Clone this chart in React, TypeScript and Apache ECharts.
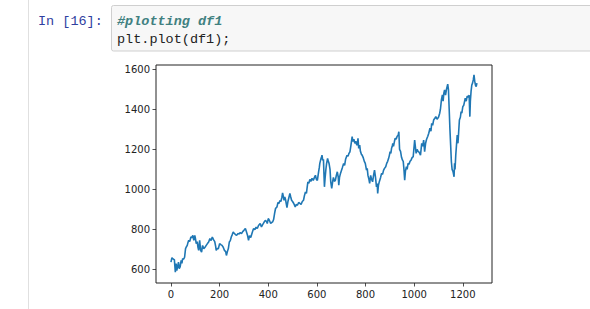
import React, { useEffect, useRef } from "react";
import * as echarts from "echarts";

// Day index (x) and value (y)
const dayIndex = [
  0, 4, 7, 10, 14, 18, 21, 24, 28, 31, 34, 38, 42, 45, 48, 52, 56, 60, 63, 67,
  70, 73, 77, 82, 86, 90, 94, 98, 100, 104, 108, 111, 114, 118, 122, 126, 130, 135, 140, 145,
  150, 155, 160, 165, 170, 175, 180, 184, 186, 190, 195, 200, 205, 210, 215, 220, 225, 228, 232, 236,
  240, 244, 248, 252, 256, 260, 265, 270, 275, 280, 285, 290, 295, 300, 306, 310, 315, 319, 323, 328,
  333, 337, 340, 345, 350, 355, 360, 367, 372, 377, 382, 388, 393, 396, 400, 405, 410, 414, 418, 422,
  426, 430, 436, 440, 444, 448, 452, 456, 459, 462, 465, 468, 471, 474, 477, 481, 485, 489, 492, 496,
  500, 505, 511, 515, 520, 525, 530, 535, 540, 545, 549, 553, 557, 560, 563, 567, 571, 575, 580, 585,
  590, 594, 598, 602, 607, 610, 612, 616, 619, 621, 624, 627, 629, 631, 634, 637, 640, 644, 647, 650,
  654, 657, 661, 665, 668, 672, 676, 680, 684, 688, 690, 693, 697, 701, 705, 710, 714, 718, 724, 728,
  732, 736, 740, 745, 748, 752, 756, 760, 763, 766, 769, 772, 776, 779, 783, 786, 790, 795, 799,
  804, 807, 810, 814, 817, 821, 825, 829, 833, 837, 841, 845, 848, 850, 853, 857, 862, 866, 870, 874,
  878, 883, 887, 891, 895, 898, 901, 904, 907, 910, 912, 915, 919, 922, 926, 930, 934, 937, 940, 944,
  948, 952, 955, 958,
  961, 964, 968, 971, 975, 979, 983, 987, 992, 996, 1002, 1005, 1008, 1012, 1016, 1021, 1026,
  1031, 1035, 1039, 1043, 1047, 1051, 1056, 1060, 1065, 1069, 1072, 1076, 1080, 1085, 1089, 1094, 1100, 1105, 1108, 1112,
  1116, 1119, 1122, 1125, 1129, 1133, 1138, 1141, 1144, 1147, 1150, 1153, 1156, 1160, 1164, 1166, 1168, 1171, 1174, 1177,
  1180, 1183, 1186, 1190, 1193, 1196, 1200, 1204, 1207, 1210, 1214, 1218, 1222, 1226, 1229, 1231, 1234, 1237, 1240, 1243,
  1246, 1249, 1252, 1255, 1258,
];

const closeValues = [
  638, 660, 655, 652, 650, 588, 630, 596, 620, 638, 605, 615, 646, 632, 655, 652, 662, 705, 713, 721,
  736, 746, 740, 763, 760, 771, 746, 771, 760, 730, 740, 712, 696, 746, 696, 688, 721, 705, 712, 721,
  730, 738, 755, 745, 763, 750, 740, 715, 696, 705, 705, 730, 725, 721, 712, 696, 690, 671, 690, 705,
  738, 745, 763, 775, 788, 782, 775, 771, 780, 778, 785, 780, 790, 796, 805, 790, 770, 746, 770, 760,
  780, 796, 805, 800, 812, 805, 820, 830, 813, 825, 835, 846, 840, 830, 855, 845, 830, 835, 838, 850,
  880, 905, 913, 935, 930, 945, 940, 960, 983, 965, 946, 963, 950, 930, 910, 940, 960, 980, 965, 946,
  940, 930, 913, 925, 921, 935, 930, 925, 940, 946, 970, 988, 980, 1010, 1038, 1030, 1050, 1040, 1055, 1045,
  1060, 1071, 1050, 1045, 1088, 1110, 1130, 1150, 1160, 1171, 1145, 1150, 1080, 1013, 1060, 1100, 1130, 1155, 1140, 1130,
  1100, 1038, 1005, 1040, 1060, 1040, 1046, 1070, 1088, 1060, 1021, 1060, 1080, 1095, 1110, 1130, 1120, 1150, 1171, 1165,
  1180, 1188, 1220, 1263, 1240, 1250, 1230, 1240, 1225, 1221, 1255, 1205, 1221, 1190, 1175, 1171, 1160, 1140, 1130,
  1096, 1105, 1070, 1050, 1030, 1070, 1050, 1038, 1070, 1096, 1060, 1013, 1030, 980, 1020, 1040, 1060, 1080, 1075, 1095,
  1105, 1113, 1130, 1140, 1155, 1170, 1188, 1180, 1205, 1215, 1230, 1215, 1240, 1255, 1250, 1265, 1270, 1288, 1200, 1190,
  1160, 1146, 1140, 1100,
  1046, 1090, 1113, 1100, 1130, 1125, 1140, 1146, 1160, 1163, 1246, 1213, 1180, 1200, 1190, 1185, 1171,
  1230, 1215, 1246, 1188, 1230, 1250, 1265, 1280, 1305, 1290, 1330, 1320, 1346, 1355, 1363, 1350, 1360, 1380, 1400, 1446,
  1471, 1440, 1480, 1496, 1470, 1500, 1525, 1496, 1400, 1300, 1221, 1138, 1100, 1088, 1063, 1130, 1100, 1171, 1221, 1271,
  1230, 1288, 1346, 1360, 1388, 1380, 1413, 1420, 1438, 1455, 1440, 1465, 1460, 1470, 1363, 1440, 1490, 1521, 1530, 1546,
  1571, 1540, 1520, 1513, 1530,
];

const xTickValues = [0, 200, 400, 600, 800, 1000, 1200];
const yTickValues = [600, 800, 1000, 1200, 1400, 1600];

const promptText = "In [16]:";
const commentText = "#plotting df1";
const codeText = "plt.plot(df1);";

export default function App() {
  const ref = useRef<HTMLDivElement>(null);

  useEffect(() => {
    if (!ref.current) return;
    const chart = echarts.init(ref.current, undefined, { renderer: "svg" });
    const data = dayIndex.map((x, i) => [x, closeValues[i]]);
    const tickFont = {
      fontFamily: "DejaVu Sans",
      fontSize: 10,
      color: "#222",
      formatter: (v: number) => String(v),
    };
    const mono = '"Liberation Mono", "DejaVu Sans Mono", monospace';

    chart.setOption({
      animation: false,
      backgroundColor: "#ffffff",
      graphic: [
        {
          type: "line",
          shape: { x1: 28.5, y1: 0, x2: 28.5, y2: 309 },
          style: { stroke: "#e0e0e0", lineWidth: 1 },
        },
        {
          type: "rect",
          shape: { x: 111.5, y: 5.5, width: 500, height: 45.5, r: 2 },
          style: { fill: "#f7f7f7", stroke: "#cfcfcf", lineWidth: 1 },
        },
        {
          type: "text",
          x: 38,
          y: 21,
          style: {
            text: promptText,
            fill: "#303F9F",
            font: `13.5px ${mono}`,
            verticalAlign: "middle",
          },
        },
        {
          type: "text",
          x: 117,
          y: 21,
          style: {
            text: commentText,
            fill: "#408080",
            font: `italic bold 13.5px ${mono}`,
            verticalAlign: "middle",
          },
        },
        {
          type: "text",
          x: 117,
          y: 39,
          style: {
            text: codeText,
            fill: "#222",
            font: `13.5px ${mono}`,
            verticalAlign: "middle",
          },
        },
      ],
      grid: {
        left: 156,
        top: 65,
        width: 336,
        height: 218,
        show: true,
        borderColor: "#222",
        borderWidth: 1,
        backgroundColor: "transparent",
      },
      xAxis: {
        type: "value",
        min: -61.5,
        max: 1320,
        splitLine: { show: false },
        axisLine: { show: false, onZero: false },
        axisTick: {
          show: true,
          length: 3.5,
          customValues: xTickValues,
          lineStyle: { color: "#222", width: 0.8 },
        },
        axisLabel: { ...tickFont, margin: 6, customValues: xTickValues },
      },
      yAxis: {
        type: "value",
        min: 533.6,
        max: 1620.4,
        splitLine: { show: false },
        axisLine: { show: false, onZero: false },
        axisTick: {
          show: true,
          length: 3.5,
          customValues: yTickValues,
          lineStyle: { color: "#222", width: 0.8 },
        },
        axisLabel: { ...tickFont, margin: 6, customValues: yTickValues },
      },
      series: [
        {
          type: "line",
          data,
          showSymbol: false,
          symbol: "none",
          lineStyle: { color: "#1f77b4", width: 1.6 },
        },
      ],
    });
    return () => chart.dispose();
  }, []);

  return (
    <div
      ref={ref}
      style={{ position: "absolute", left: 0, top: 0, width: 590, height: 309 }}
    />
  );
}
